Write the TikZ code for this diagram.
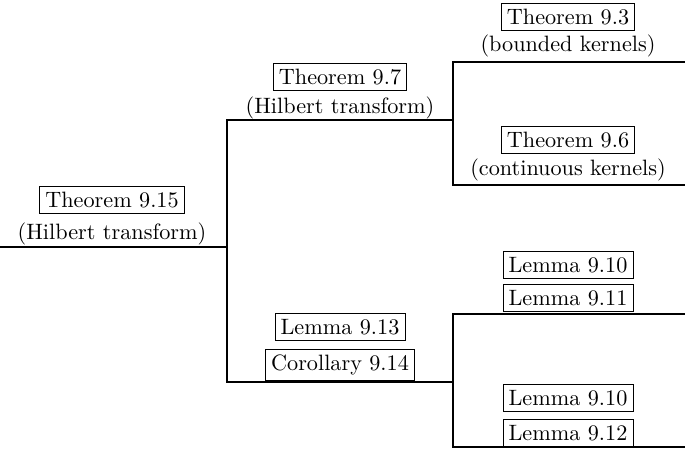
\documentclass[tikz,border=0pt]{standalone}
\begin{document}
\begin{tikzpicture}[x=0.45pt,y=-0.45pt,
  bx/.style={draw,inner sep=2.5pt,font=\fontsize{10}{12}\selectfont},
  tx/.style={inner sep=0pt,font=\fontsize{10}{12}\selectfont},
  ln/.style={line width=0.5pt}]
\useasboundingbox (0,0) rectangle (685,449);
\node[bx] (t915) at (112,200) {Theorem 9.15};
\node[tx] (t915t) at (112,234) {(Hilbert transform)};
\node[bx] (t97) at (340,77) {Theorem 9.7};
\node[tx] (t97t) at (340,108) {(Hilbert transform)};
\node[bx] (t93) at (568,17) {Theorem 9.3};
\node[tx] (t93t) at (568,46) {(bounded kernels)};
\node[bx] (t96) at (568,140) {Theorem 9.6};
\node[tx] (t96t) at (568,170) {(continuous kernels)};
\node[bx] (l913) at (340,327) {Lemma 9.13};
\node[bx] (c914) at (340,365) {Corollary 9.14};
\node[bx] (l910) at (568,265) {Lemma 9.10};
\node[bx] (l911) at (568,298) {Lemma 9.11};
\node[bx] (l910b) at (568,398) {Lemma 9.10};
\node[bx] (l912) at (568,433) {Lemma 9.12};
\coordinate (r0) at (0,247); \coordinate (r1) at (227,247);
\coordinate (a1) at (227,120); \coordinate (a2) at (453,120);
\coordinate (b1) at (227,382); \coordinate (b2) at (453,382);
\coordinate (c1) at (453,62); \coordinate (c2) at (685,62);
\coordinate (d1) at (453,185); \coordinate (d2) at (685,185);
\coordinate (e1) at (453,314); \coordinate (e2) at (685,314);
\coordinate (f1) at (453,447); \coordinate (f2) at (685,447);
\draw[ln] (r0) -- (r1);
\draw[ln] (a2) -- (a1) -- (b1) -- (b2);
\draw[ln] (c2) -- (c1) -- (d1) -- (d2);
\draw[ln] (e2) -- (e1) -- (f1) -- (f2);
\end{tikzpicture}
\end{document}
